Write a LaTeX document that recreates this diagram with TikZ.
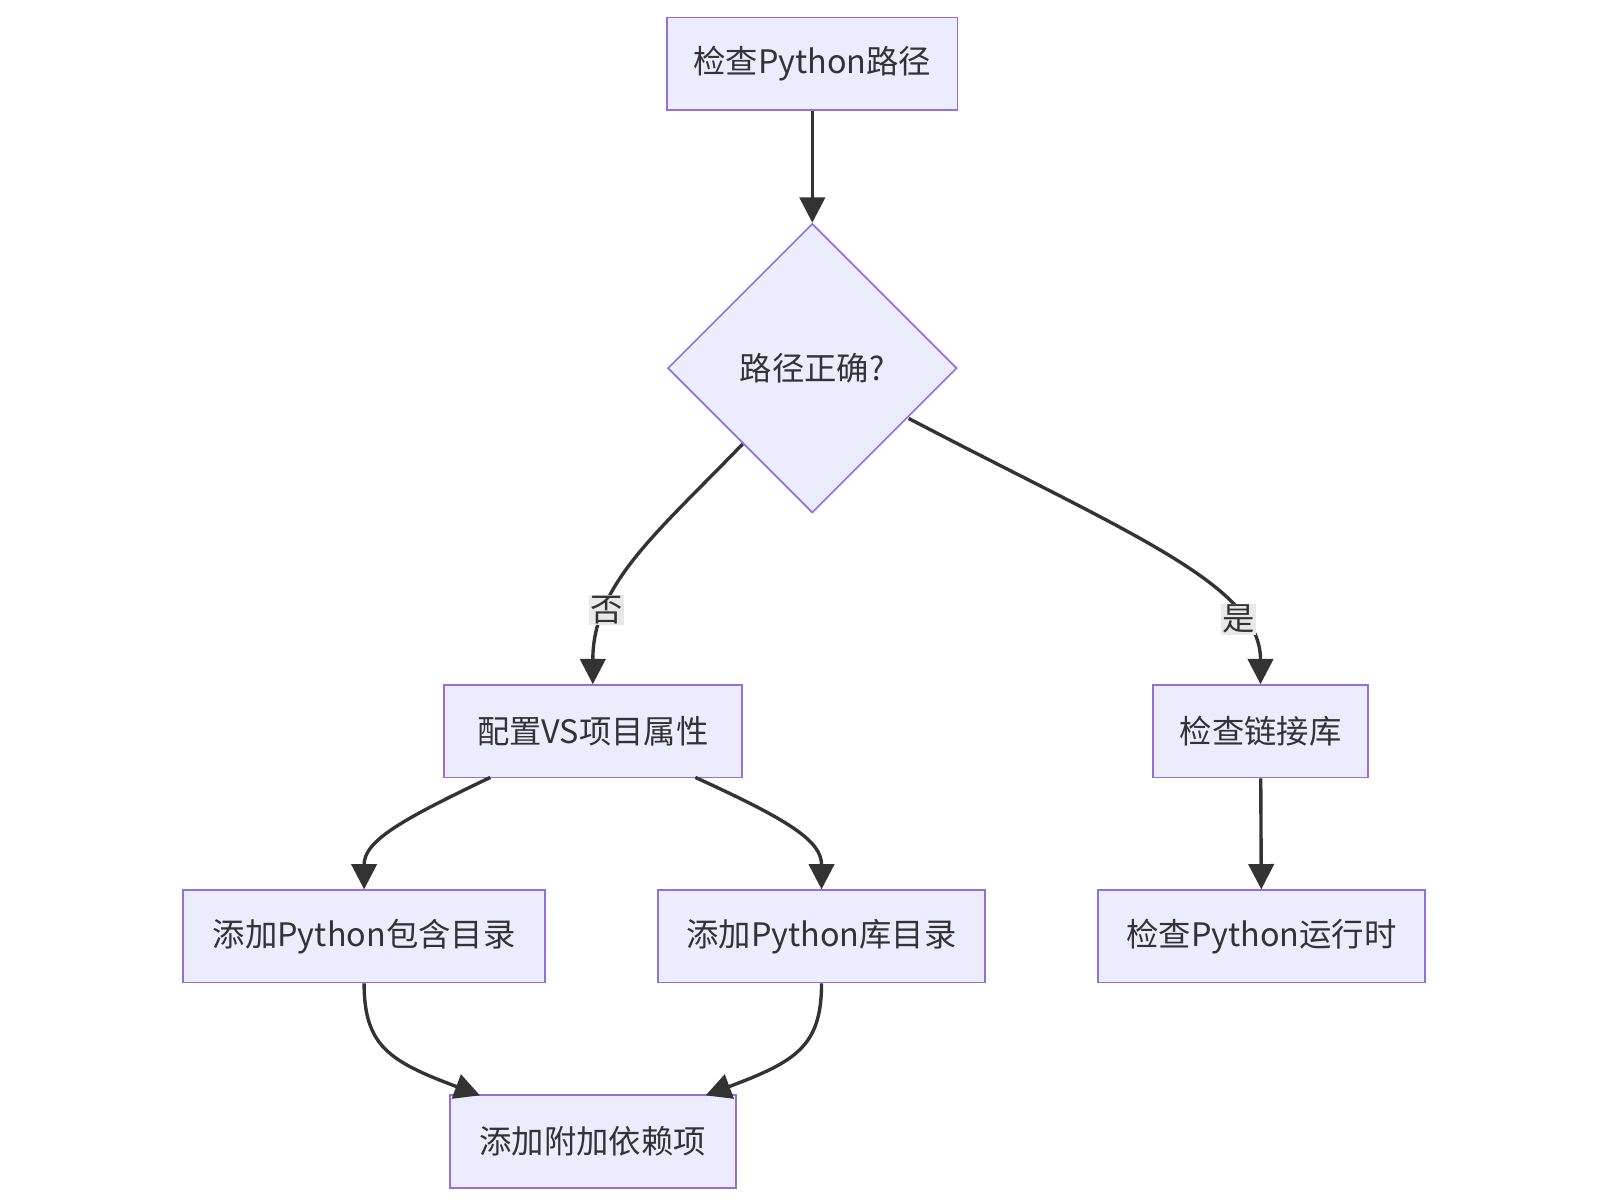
\documentclass[tikz,border=0pt]{standalone}
\usepackage{fontspec}
\setmainfont{Liberation Sans}
\newfontfamily\cjk{Noto Sans CJK SC}
\usetikzlibrary{shapes.geometric,arrows.meta}
\definecolor{nfill}{HTML}{ECECFF}
\definecolor{nline}{HTML}{9370DB}
\definecolor{eline}{HTML}{333333}
\definecolor{lbg}{HTML}{E8E8E8}
\begin{document}
\begin{tikzpicture}[x=0.02564cm,y=-0.02564cm,
  box/.style={draw=nline,fill=nfill,line width=1.2pt,minimum height=2.31cm,inner sep=0pt,font=\fontsize{23}{27}\selectfont\cjk,text=eline},
  dia/.style={draw=nline,fill=nfill,line width=1.2pt,diamond,minimum width=7.23cm,minimum height=7.23cm,inner sep=0pt,font=\fontsize{23}{27}\selectfont\cjk,text=eline},
  edge/.style={draw=eline,line width=2.4pt,-{Triangle[length=18pt,width=18pt]}},
  lab/.style={fill=lbg,inner sep=1pt,font=\fontsize{23}{27}\selectfont\cjk,text=eline}]
\useasboundingbox (0,0) rectangle (1560,1170);
\node[box,minimum width=7.26cm] (a) at (792,62) {检查Python路径};
\node[dia] (d) at (792,359) {路径正确?};
\node[box,minimum width=7.44cm] (c) at (578,713) {配置VS项目属性};
\node[box,minimum width=5.36cm] (e) at (1229,713) {检查链接库};
\node[box,minimum width=9.05cm] (f) at (355,913) {添加Python包含目录};
\node[box,minimum width=8.16cm] (g) at (801,913) {添加Python库目录};
\node[box,minimum width=8.16cm] (h) at (1230,913) {检查Python运行时};
\node[box,minimum width=7.15cm] (i) at (578,1113) {添加附加依赖项};
\coordinate (d1) at (724,433);
\coordinate (d2) at (886,408);
\coordinate (c1) at (478,758);
\coordinate (c2) at (678,758);
\coordinate (i1) at (468,1068);
\coordinate (i2) at (688,1068);
\draw[edge] (a) -- (d);
\draw[edge] (d1) .. controls (640,520) and (578,570) .. (c.north) node[lab,pos=0.72] {否};
\draw[edge] (d2) .. controls (1100,520) and (1229,570) .. (e.north) node[lab,pos=0.76] {是};
\draw[edge] (c1) .. controls (390,800) and (355,820) .. (f.north);
\draw[edge] (c2) .. controls (770,800) and (801,820) .. (g.north);
\draw[edge] (e) -- (h);
\draw[edge] (f.south) .. controls (355,1020) and (380,1035) .. (i1);
\draw[edge] (g.south) .. controls (801,1020) and (776,1035) .. (i2);
\end{tikzpicture}
\end{document}
